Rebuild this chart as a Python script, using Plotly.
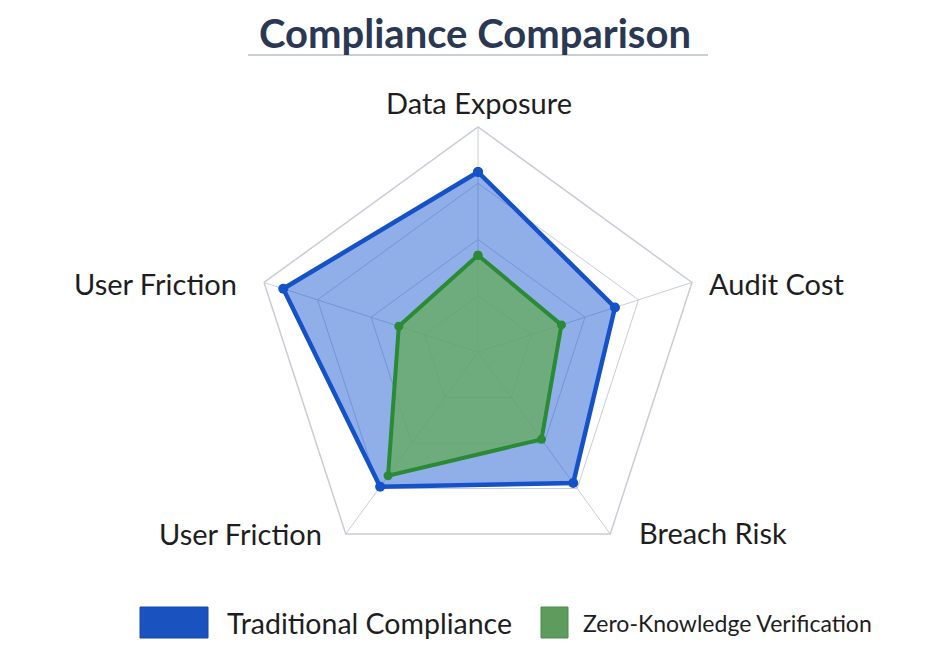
import plotly.graph_objects as go

title_text = "Compliance Comparison"
categories = ["Data Exposure", "Audit Cost", "Breach Risk", "User Friction", "User Friction"]
series_names = ["Traditional Compliance", "Zero-Knowledge Verification"]
traditional = [80, 64, 72, 74, 91]
zero_knowledge = [43, 39, 48, 68, 37]
radial_ticks = [25, 50, 75, 100]

keys = [f"k{i}" for i in range(len(categories))]

blue_line = "#1552c8"
blue_fill = "rgba(22,88,210,0.48)"
green_line = "#2a8a35"
green_fill = "rgba(100,172,88,0.74)"
grid = "#c9cdd6"
label_font = "Lato"

fig = go.Figure()
fig.add_trace(go.Scatterpolar(
    r=traditional + traditional[:1], theta=keys + keys[:1],
    name=series_names[0], mode="lines+markers", fill="toself",
    fillcolor=blue_fill, line=dict(color=blue_line, width=4.5),
    marker=dict(size=10, color=blue_line), showlegend=False,
))
fig.add_trace(go.Scatterpolar(
    r=zero_knowledge + zero_knowledge[:1], theta=keys + keys[:1],
    name=series_names[1], mode="lines+markers", fill="toself",
    fillcolor=green_fill, line=dict(color=green_line, width=4),
    marker=dict(size=9, color=green_line), showlegend=False,
))

# page body has an 8px margin; positions below are in figure pixels
cx, cy, R = 470, 344, 225
W, H = 952, 662

def px(x):
    return x / W

def py(y):
    return 1 - y / H

fig.update_layout(
    width=W, height=H,
    margin=dict(l=0, r=0, t=0, b=0),
    paper_bgcolor="white",
    showlegend=False,
    polar=dict(
        domain=dict(x=[(cx - R) / W, (cx + R) / W], y=[(H - cy - R) / H, (H - cy + R) / H]),
        bgcolor="white",
        gridshape="linear",
        radialaxis=dict(range=[0, 100], tickvals=radial_ticks, showticklabels=False,
                        showline=False, ticks="", gridcolor=grid, gridwidth=1.3,
                        layer="below traces"),
        angularaxis=dict(type="category", categoryarray=keys, tickmode="array",
                         tickvals=keys, ticktext=categories, showticklabels=False,
                         direction="clockwise", rotation=90,
                         gridcolor=grid, gridwidth=1.3, linecolor=grid, linewidth=1.5,
                         ticks="", layer="below traces"),
    ),
)

# category labels placed around the pentagon
label_positions = [(471, 94), (769, 275), (705, 524), (232, 525), (147, 275)]
for text, (lx, ly) in zip(categories, label_positions):
    fig.add_annotation(text=text, x=px(lx), y=py(ly), xref="paper", yref="paper",
                       showarrow=False, xanchor="center", yanchor="middle",
                       font=dict(family=label_font, size=29, color="#1e1e1e"))

# title and underline
fig.add_annotation(text=f"<b>{title_text}</b>", x=px(467), y=1, xref="paper", yref="paper",
                   showarrow=False, font=dict(family="Lato", size=40, color="#2b3854"),
                   xanchor="center", yanchor="top", borderpad=0)
fig.add_shape(type="line", xref="paper", yref="paper", x0=px(240), x1=px(700),
              y0=py(47), y1=py(47), line=dict(color="#b8bfcc", width=1.5))

# custom legend
fig.add_shape(type="rect", xref="paper", yref="paper", x0=px(132), x1=px(200),
              y0=py(630), y1=py(599), fillcolor="#1a52c0",
              line=dict(color="#1446a8", width=1))
fig.add_annotation(text=series_names[0], x=px(217), y=py(615), xref="paper", yref="paper",
                   showarrow=False, xanchor="left", yanchor="middle",
                   font=dict(family="Lato", size=28.5, color="#1e1e1e"))
fig.add_shape(type="rect", xref="paper", yref="paper", x0=px(533), x1=px(560),
              y0=py(630), y1=py(599), fillcolor="#5e9c5e",
              line=dict(color="#4f8a4f", width=1))
fig.add_annotation(text=series_names[1], x=px(573), y=py(615), xref="paper", yref="paper",
                   showarrow=False, xanchor="left", yanchor="middle",
                   font=dict(family="Lato", size=23, color="#1e1e1e"))

fig.write_html("out.html")
